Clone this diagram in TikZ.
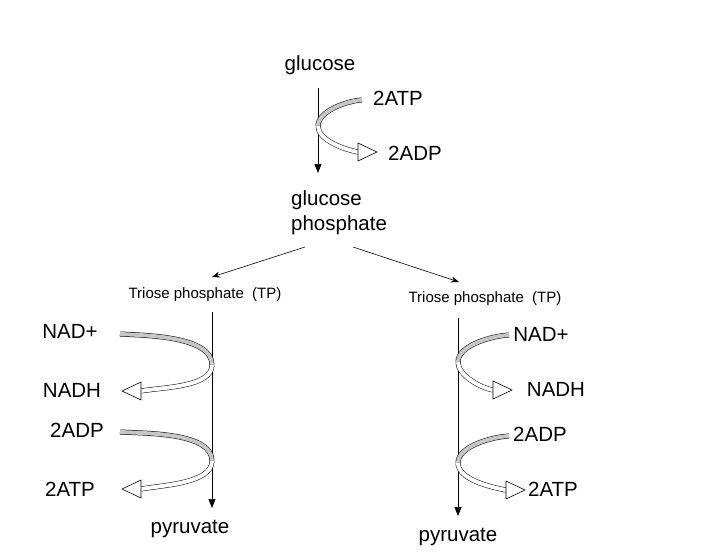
\documentclass[tikz,border=0pt]{standalone}
\usepackage{fontspec}
\setmainfont{Liberation Sans}
\usetikzlibrary{arrows.meta}
\newcommand\bandL[6]{% sx sy mx my tx ty ; tip points left
 \draw[line width=0.5pt,double=gray!45,double distance=4pt] (#1,#2) to[out=-3,in=90,looseness=0.75] (#3,#4);
 \draw[line width=0.5pt,double=white,double distance=4pt] (#3,#4) to[out=-90,in=10,looseness=0.75] (#5+19,#6);
 \draw[fill=white,line width=0.6pt] (#5,#6) -- (#5+19,#6-9) -- (#5+19,#6+9) -- cycle;}
\newcommand\bandR[6]{% tip points right
 \draw[line width=0.5pt,double=gray!45,double distance=4pt] (#1,#2) to[out=183,in=90,looseness=0.75] (#3,#4);
 \draw[line width=0.5pt,double=white,double distance=4pt] (#3,#4) to[out=-90,in=170,looseness=0.75] (#5-19,#6);
 \draw[fill=white,line width=0.6pt] (#5,#6) -- (#5-19,#6-9) -- (#5-19,#6+9) -- cycle;}
\begin{document}
\begin{tikzpicture}[x=1pt,y=-1pt,
 lbl/.style={font=\fontsize{20.5}{24}\selectfont,inner sep=0pt},
 sm/.style={font=\fontsize{15}{17}\selectfont,inner sep=0pt},
 arr/.style={-{Triangle[length=9pt,width=7pt]},line width=0.7pt},
 ln/.style={-{Stealth[length=8pt,width=6pt]},line width=0.6pt}]
\useasboundingbox[fill=white] (0,0) rectangle (705,554);
\node[lbl] (g) at (320,65) {glucose};
\node[lbl] (atp0) at (398,98) {2ATP};
\node[lbl] (adp0) at (415,153) {2ADP};
\node[lbl,align=left,anchor=west] (gp) at (291,213) {glucose\\[1pt]phosphate};
\coordinate (g1) at (318,88); \coordinate (g2) at (318,173);
\draw[arr] (g1) -- (g2);
\bandR{362}{100}{318}{126}{377}{152}
\node[sm] (tpl) at (205,295) {Triose phosphate\;\;(TP)};
\node[sm] (tpr) at (485,299) {Triose phosphate\;\;(TP)};
\coordinate (tplt) at (212,277); \coordinate (tprt) at (459,282);
\draw[ln] (305,247) -- (tplt);
\draw[ln] (353,247) -- (tprt);
\coordinate (l1) at (212,312); \coordinate (l2) at (212,508);
\draw[arr] (l1) -- (l2);
\coordinate (r1) at (458,318); \coordinate (r2) at (458,516);
\draw[arr] (r1) -- (r2);
\bandL{120}{334}{212}{365}{122}{391}
\bandL{120}{432}{212}{461}{122}{489}
\bandR{509}{335}{458}{362}{512}{390}
\bandR{509}{436}{458}{463}{525}{490}
\node[lbl] (nadl) at (70,331) {NAD+};
\node[lbl] (nadhl) at (72,390) {NADH};
\node[lbl] (adpl) at (77,430) {2ADP};
\node[lbl] (atpl) at (70,489) {2ATP};
\node[lbl] (pyl) at (190,529) {pyruvate};
\node[lbl] (nadr) at (541,334) {NAD+};
\node[lbl] (nadhr) at (556,389) {NADH};
\node[lbl] (adpr) at (540,434) {2ADP};
\node[lbl] (atpr) at (553,489) {2ATP};
\node[lbl] (pyr) at (458,537) {pyruvate};
\end{tikzpicture}
\end{document}
